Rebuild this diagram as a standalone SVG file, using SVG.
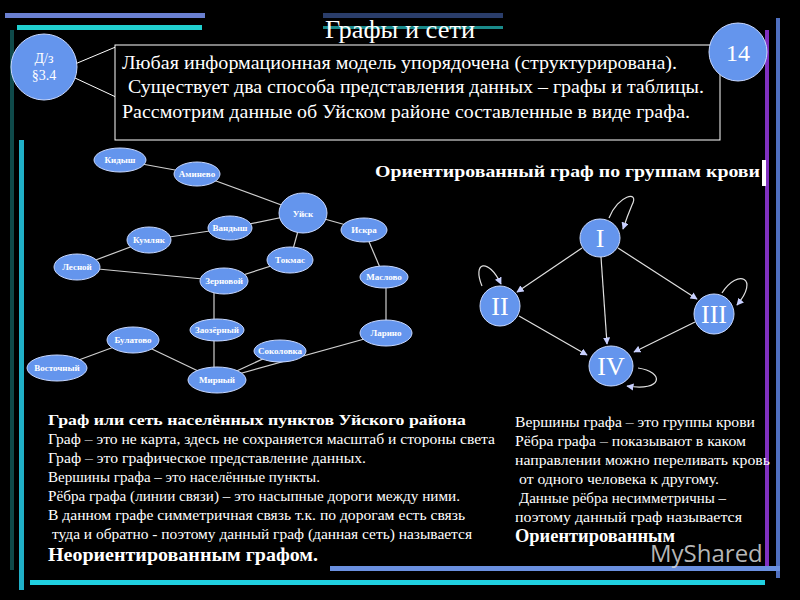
<svg xmlns="http://www.w3.org/2000/svg" width="800" height="600" viewBox="0 0 800 600">
<defs>
<style>
.n ellipse{fill:#6495ED;stroke:#c8d8ff;stroke-width:1}
.n text{font-family:"Liberation Serif",serif;font-size:9px;font-weight:bold;fill:#fff;text-anchor:middle}
.b ellipse{fill:#6495ED;stroke:#c8d8ff;stroke-width:1}
.b text{font-family:"Liberation Serif",serif;font-size:26px;fill:#fff;text-anchor:middle}
.e line{stroke:#cfcfcf;stroke-width:1.2}
.d line,.d path{stroke:#e0e0e0;stroke-width:1.2;fill:none;marker-end:url(#a)}
.lp{stroke:#e8e8ff;stroke-width:2.5;fill:none;marker-end:url(#a)}
.t{font-family:"Liberation Serif",serif;fill:#fff}
</style>
<marker id="a" viewBox="0 0 10 10" refX="9" refY="5" markerWidth="6" markerHeight="6" orient="auto"><path d="M0,0 L10,5 L0,10 z" fill="#c8d0ff"/></marker>
</defs>
<rect width="800" height="600" fill="#000"/>
<g id="decor">
<rect x="5" y="13" width="200" height="5" fill="#6a7fd0"/>
<rect x="17" y="25" width="185" height="5" fill="#20d0d0"/>
<rect x="323" y="13" width="180" height="5" fill="#2a3d6a"/>
<rect x="323" y="26" width="180" height="3" fill="#1a8a8a"/>
<rect x="10" y="30" width="4" height="540" fill="#0f4a4a"/>
<rect x="19" y="140" width="5" height="450" fill="#20b0c8"/>
<rect x="765" y="30" width="4" height="540" fill="#8030c0"/>
<rect x="776" y="18" width="4" height="560" fill="#5070c0"/>
<rect x="330" y="566" width="450" height="5" fill="#6a90e0"/>
<rect x="30" y="580" width="735" height="5" fill="#20d0e0"/>
</g>
<text class="t" x="400" y="38" font-size="26" text-anchor="middle" textLength="150" lengthAdjust="spacingAndGlyphs">Графы и сети</text>
<g id="dz">
<path d="M75,64 L118,46 M75,78 L118,98" stroke="#fff" stroke-width="1" fill="none"/>
<circle cx="44" cy="67" r="33" fill="#6495ED" stroke="#c8d8ff"/>
<text class="t" x="44" y="63" font-size="14" text-anchor="middle">Д/з</text>
<text class="t" x="44" y="80" font-size="14" text-anchor="middle">§3.4</text>
</g>
<g id="box">
<rect x="115" y="45" width="605" height="95" fill="#000" stroke="#fff" stroke-width="1"/>
<text class="t" font-size="18" lengthAdjust="spacingAndGlyphs" x="122" y="69" textLength="555">Любая информационная модель упорядочена (структурирована).</text>
<text class="t" font-size="18" lengthAdjust="spacingAndGlyphs" x="128" y="93" textLength="576">Существует два способа представления данных – графы и таблицы.</text>
<text class="t" font-size="18" lengthAdjust="spacingAndGlyphs" x="122" y="118" textLength="568">Рассмотрим данные об Уйском районе составленные в виде графа.</text>
</g>
<g id="num">
<circle cx="738" cy="52" r="29" fill="#6495ED" stroke="#c8d8ff"/>
<text class="t" x="738" y="61" font-size="24" text-anchor="middle">14</text>
</g>
<g id="edges" class="e">
<line x1="120" y1="160" x2="197" y2="174"/>
<line x1="197" y1="174" x2="303" y2="213"/>
<line x1="303" y1="213" x2="230" y2="228"/>
<line x1="303" y1="213" x2="364" y2="230"/>
<line x1="303" y1="213" x2="290" y2="260"/>
<line x1="230" y1="228" x2="149" y2="240"/>
<line x1="149" y1="240" x2="77" y2="267"/>
<line x1="77" y1="267" x2="224" y2="281"/>
<line x1="224" y1="281" x2="290" y2="260"/>
<line x1="214" y1="281" x2="214" y2="380"/>
<line x1="364" y1="230" x2="384" y2="277"/>
<line x1="386" y1="277" x2="386" y2="333"/>
<line x1="386" y1="333" x2="217" y2="380"/>
<line x1="280" y1="351" x2="217" y2="380"/>
<line x1="133" y1="340" x2="217" y2="380"/>
<line x1="133" y1="340" x2="57" y2="368"/>
</g>
<g id="n-kidysh" class="n"><ellipse cx="120" cy="160" rx="26" ry="12"/><text x="120" y="163">Кидыш</text></g>
<g id="n-aminevo" class="n"><ellipse cx="197" cy="174" rx="23" ry="12"/><text x="197" y="177">Аминево</text></g>
<g id="n-uysk" class="n"><ellipse cx="303" cy="213" rx="24" ry="20"/><text x="303" y="217" font-size="11">Уйск</text></g>
<g id="n-vandysh" class="n"><ellipse cx="230" cy="228" rx="22" ry="12"/><text x="230" y="231">Вандыш</text></g>
<g id="n-kumlyak" class="n"><ellipse cx="149" cy="240" rx="22" ry="13"/><text x="149" y="243">Кумляк</text></g>
<g id="n-iskra" class="n"><ellipse cx="364" cy="230" rx="23" ry="12"/><text x="364" y="233">Искра</text></g>
<g id="n-lesnoy" class="n"><ellipse cx="77" cy="267" rx="23" ry="13"/><text x="77" y="270">Лесной</text></g>
<g id="n-tokmas" class="n"><ellipse cx="290" cy="260" rx="23" ry="13"/><text x="290" y="263">Токмас</text></g>
<g id="n-zernovoy" class="n"><ellipse cx="224" cy="281" rx="24" ry="13"/><text x="224" y="284">Зерновой</text></g>
<g id="n-maslovo" class="n"><ellipse cx="384" cy="277" rx="24" ry="11"/><text x="384" y="280">Маслово</text></g>
<g id="n-zaozerny" class="n"><ellipse cx="217" cy="330" rx="27" ry="11"/><text x="217" y="333">Заозёрный</text></g>
<g id="n-bulatovo" class="n"><ellipse cx="133" cy="340" rx="26" ry="13"/><text x="133" y="343">Булатово</text></g>
<g id="n-larino" class="n"><ellipse cx="386" cy="333" rx="26" ry="13"/><text x="386" y="336">Ларино</text></g>
<g id="n-sokolovka" class="n"><ellipse cx="280" cy="351" rx="26" ry="11"/><text x="280" y="354">Соколовка</text></g>
<g id="n-vostochny" class="n"><ellipse cx="57" cy="368" rx="30" ry="13"/><text x="57" y="371">Восточный</text></g>
<g id="n-mirny" class="n"><ellipse cx="217" cy="380" rx="29" ry="13"/><text x="217" y="383">Мирный</text></g>
<text class="t" x="375" y="177" font-size="16" font-weight="bold" textLength="385" lengthAdjust="spacingAndGlyphs">Ориентированный граф по группам крови</text>
<rect x="762" y="160" width="4" height="26" fill="#fff"/>
<g id="blood-edges" class="d">
<line x1="582" y1="248" x2="517" y2="292"/>
<line x1="601" y1="257" x2="607" y2="344"/>
<line x1="618" y1="248" x2="697" y2="299"/>
<line x1="519" y1="316" x2="587" y2="355"/>
<line x1="695" y1="322" x2="634" y2="352"/>
<path class="lp" d="M609,218 C618,195 640,190 632,205 C629,212 626,220 623,229"/>
<path class="lp" d="M482,286 C472,262 488,257 501,284"/>
<path class="lp" d="M722,293 C738,268 760,278 737,305"/>
<path class="lp" d="M638,368 C665,372 663,392 627,386"/>
</g>
<g id="b1" class="b"><ellipse cx="600" cy="238" rx="20" ry="19"/><text x="600" y="247">I</text></g>
<g id="b2" class="b"><ellipse cx="500" cy="306" rx="20" ry="20"/><text x="500" y="315">II</text></g>
<g id="b3" class="b"><ellipse cx="714" cy="314" rx="20" ry="20"/><text x="714" y="323">III</text></g>
<g id="b4" class="b"><ellipse cx="611" cy="366" rx="22" ry="20"/><text x="611" y="375">IV</text></g>
<g class="t" font-size="14" lengthAdjust="spacingAndGlyphs">
<text x="48" y="425" font-weight="bold" font-size="15" textLength="418" lengthAdjust="spacingAndGlyphs">Граф или сеть населённых  пунктов Уйского  района</text>
<text x="48" y="444" textLength="447" lengthAdjust="spacingAndGlyphs">Граф – это не карта, здесь не сохраняется масштаб и стороны света</text>
<text x="48" y="463" textLength="318" lengthAdjust="spacingAndGlyphs">Граф – это графическое представление данных.</text>
<text x="48" y="482" textLength="272" lengthAdjust="spacingAndGlyphs">Вершины графа – это населённые пункты.</text>
<text x="48" y="501" textLength="412" lengthAdjust="spacingAndGlyphs">Рёбра графа (линии связи) – это насыпные дороги между ними.</text>
<text x="48" y="520" textLength="417" lengthAdjust="spacingAndGlyphs">В данном графе симметричная связь т.к. по дорогам есть связь</text>
<text x="52" y="539" textLength="420" lengthAdjust="spacingAndGlyphs"> туда и обратно  - поэтому данный граф (данная сеть) называется</text>
<text x="48" y="561" font-size="18" font-weight="bold" textLength="270" lengthAdjust="spacingAndGlyphs">Неориентированным графом.</text>
<text x="515" y="427" textLength="240" lengthAdjust="spacingAndGlyphs">Вершины графа – это группы крови</text>
<text x="515" y="446" textLength="231" lengthAdjust="spacingAndGlyphs">Рёбра графа – показывают в каком</text>
<text x="515" y="465" textLength="255" lengthAdjust="spacingAndGlyphs">направлении можно переливать кровь</text>
<text x="519" y="484" textLength="200" lengthAdjust="spacingAndGlyphs">от одного человека к другому.</text>
<text x="519" y="503" textLength="207" lengthAdjust="spacingAndGlyphs">Данные рёбра несимметричны –</text>
<text x="515" y="522" textLength="227" lengthAdjust="spacingAndGlyphs">поэтому  данный граф называется</text>
<text x="515" y="542" font-size="18" font-weight="bold" textLength="160" lengthAdjust="spacingAndGlyphs">Ориентированным</text>
</g>
<text x="650" y="562" font-family="'Open Sans',sans-serif" font-size="24" fill="#d8d8d8" fill-opacity="0.85">MyShared</text>
</svg>
